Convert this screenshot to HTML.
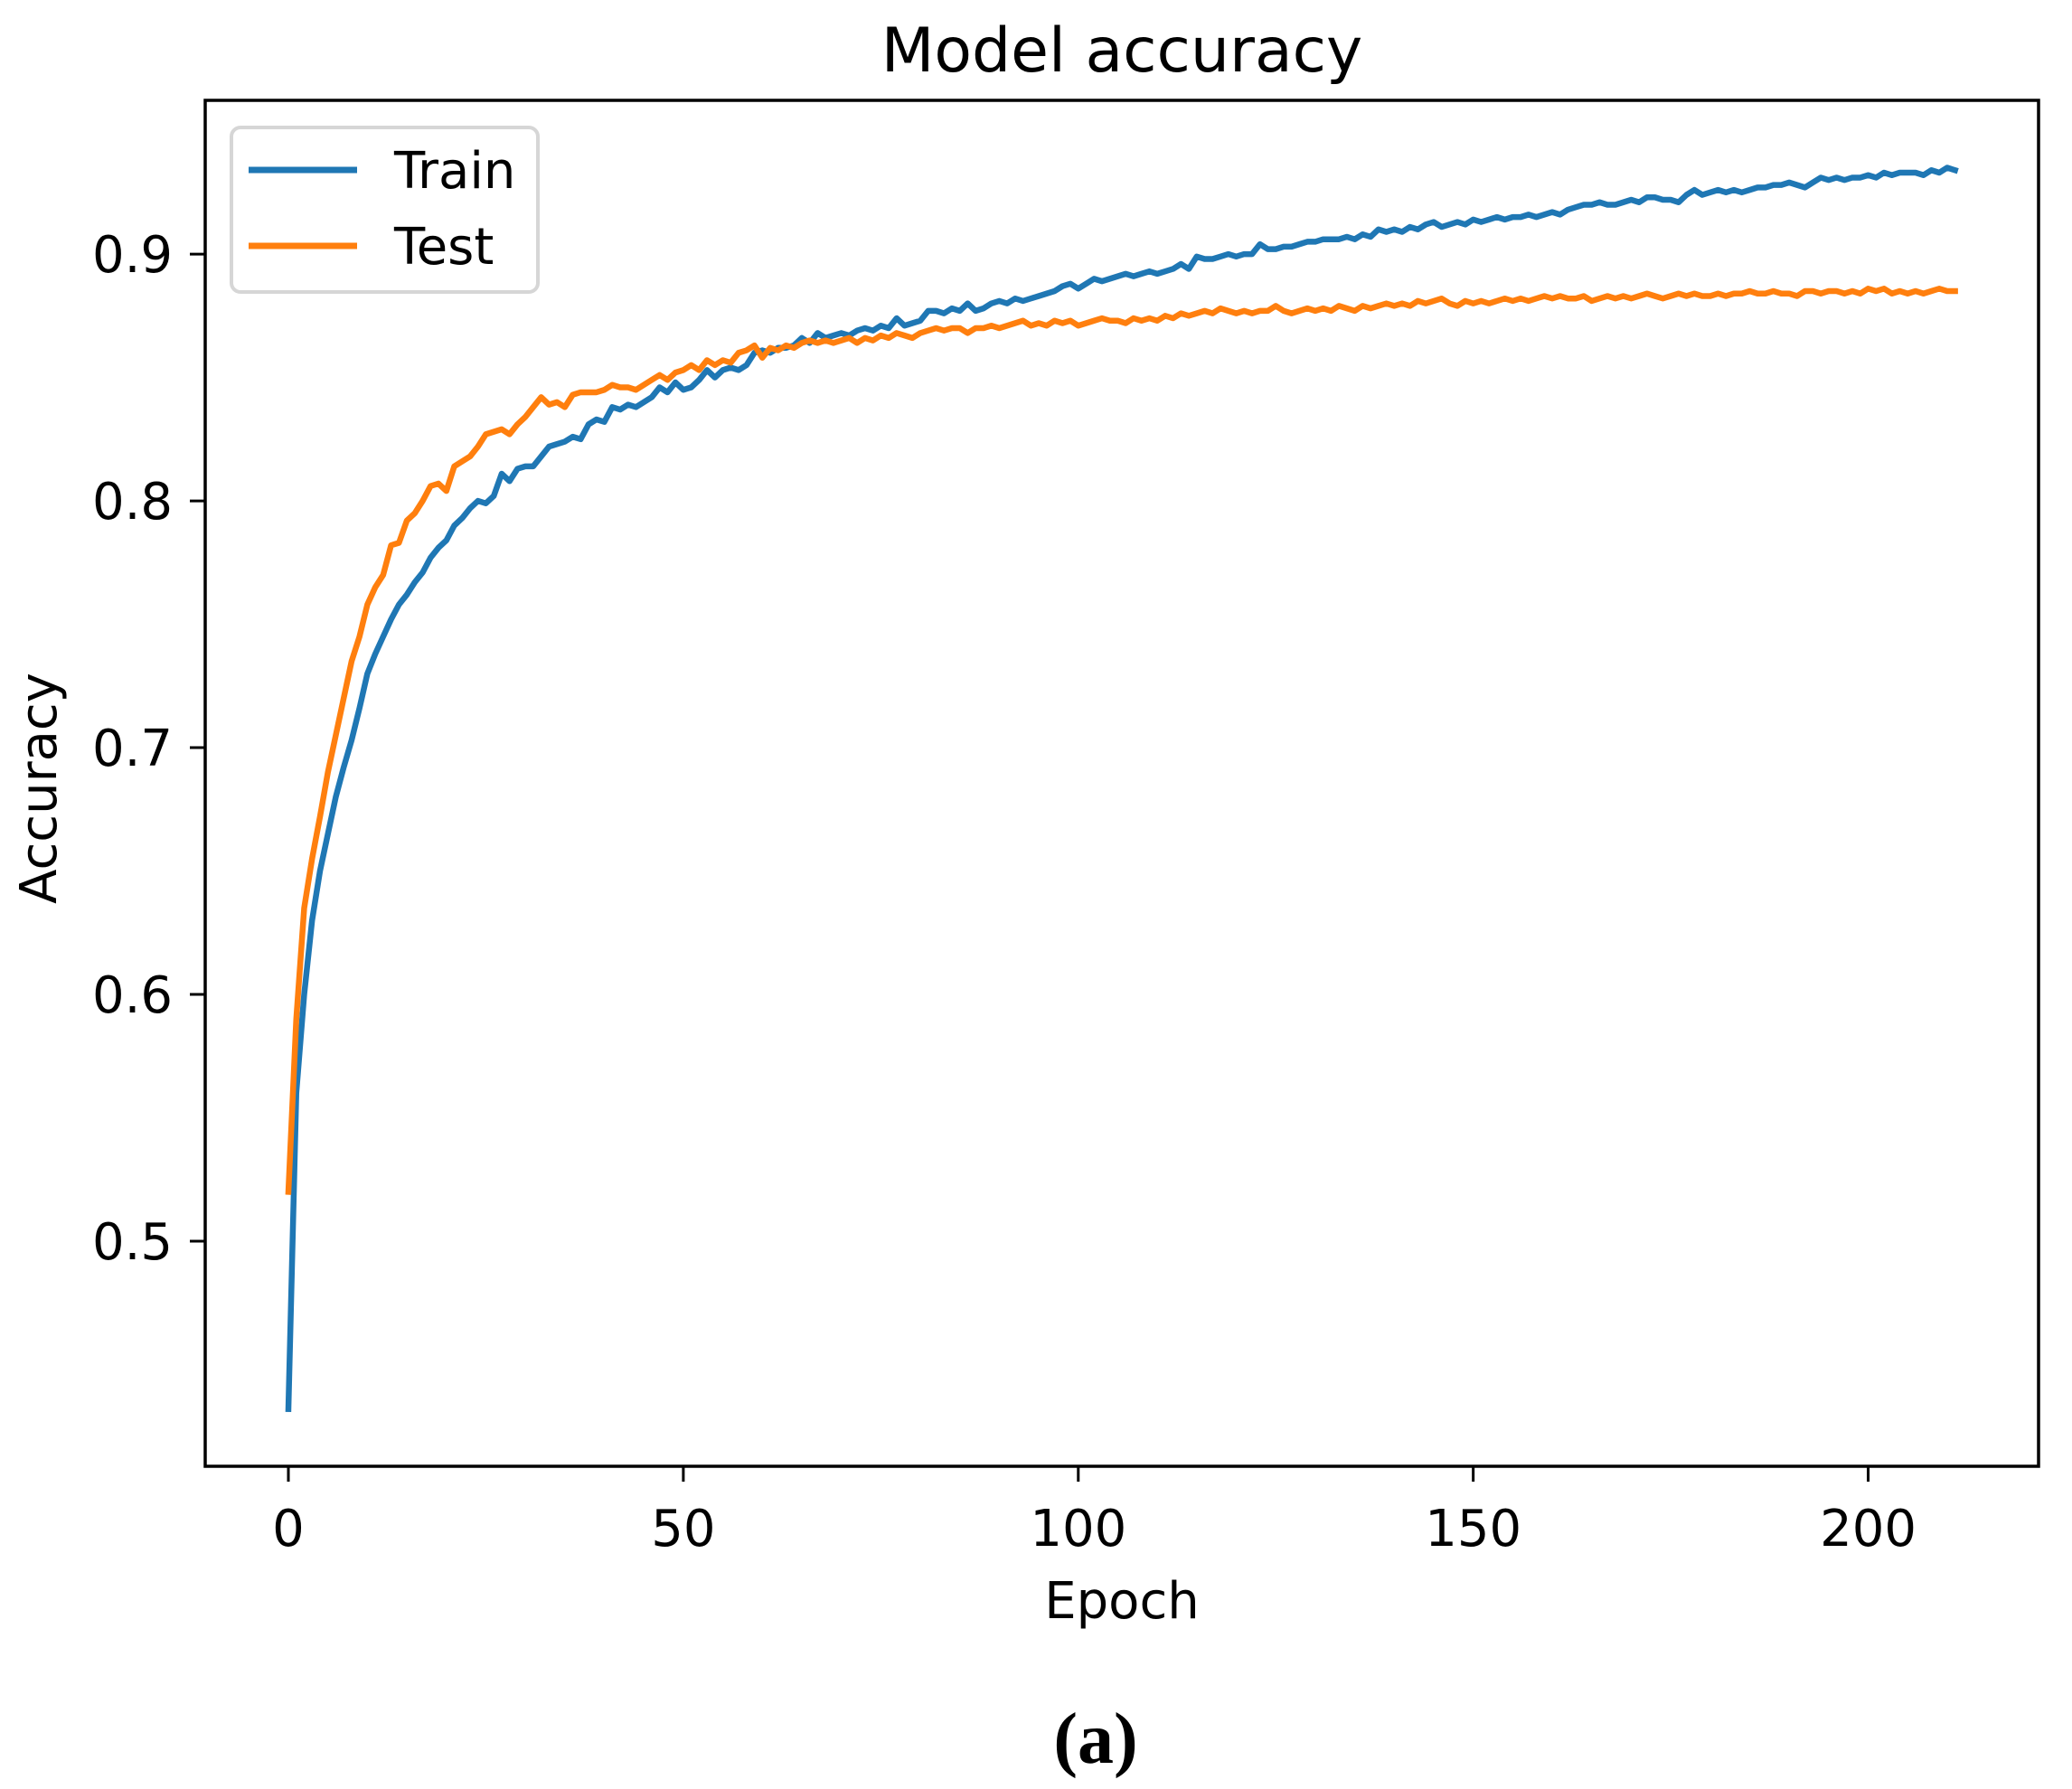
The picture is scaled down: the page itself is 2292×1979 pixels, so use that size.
<!DOCTYPE html>
<html><head><meta charset="utf-8"><style>
html,body{margin:0;padding:0;background:#fff;}
svg{display:block;}
text{font-family:"DejaVu Sans","Liberation Sans",sans-serif;fill:#000;}
</style></head><body>
<svg id="chart" width="2292" height="1979" viewBox="0 0 2292 1979">
<text x="1241" y="79" font-size="68" text-anchor="middle">Model accuracy</text>
<g id="plot"></g>
<g id="xticks"></g>
<g id="yticks"></g>
<text x="1241" y="1790" font-size="56" text-anchor="middle">Epoch</text>
<text x="0" y="0" font-size="56" text-anchor="middle" transform="translate(62,872) rotate(-90)">Accuracy</text>
<rect x="227" y="111" width="2028" height="1511" fill="none" stroke="#000" stroke-width="3.5"/>
<g>
<rect x="256" y="141" width="339" height="182" rx="10" fill="#fff" fill-opacity="0.8" stroke="#d6d6d6" stroke-width="4"/>
<g>
<line x1="275" y1="188" x2="395" y2="188" stroke="#1f77b4" stroke-width="7"/>
<text x="436" y="208" font-size="56">Train</text>
</g>
<g>
<line x1="275" y1="272" x2="395" y2="272" stroke="#ff7f0e" stroke-width="7"/>
<text x="436" y="292" font-size="56">Test</text>
</g>
</g>
<text x="1212" y="1950" font-size="80" font-weight="bold" text-anchor="middle" style="font-family:'Liberation Serif',serif">(a)</text>
</svg>
<script>
const xTicks = [0, 50, 100, 150, 200];
const yTicks = [0.5, 0.6, 0.7, 0.8, 0.9];
const yTickLabels = ["0.5", "0.6", "0.7", "0.8", "0.9"];
const trainAcc = [
0.432,0.560,0.600,0.630,0.650,0.665,0.680,0.692,0.703,0.716,
0.730,0.738,0.745,0.752,0.758,0.762,0.767,0.771,0.777,0.781,
0.784,0.790,0.793,0.797,0.800,0.799,0.802,0.811,0.808,0.813,
0.814,0.814,0.818,0.822,0.823,0.824,0.826,0.825,0.831,0.833,
0.832,0.838,0.837,0.839,0.838,0.840,0.842,0.846,0.844,0.848,
0.845,0.846,0.849,0.853,0.850,0.853,0.854,0.853,0.855,0.860,
0.861,0.860,0.862,0.862,0.863,0.866,0.864,0.868,0.866,0.867,
0.868,0.867,0.869,0.870,0.869,0.871,0.870,0.874,0.871,0.872,
0.873,0.877,0.877,0.876,0.878,0.877,0.880,0.877,0.878,0.880,
0.881,0.880,0.882,0.881,0.882,0.883,0.884,0.885,0.887,0.888,
0.886,0.888,0.890,0.889,0.890,0.891,0.892,0.891,0.892,0.893,
0.892,0.893,0.894,0.896,0.894,0.899,0.898,0.898,0.899,0.900,
0.899,0.900,0.900,0.904,0.902,0.902,0.903,0.903,0.904,0.905,
0.905,0.906,0.906,0.906,0.907,0.906,0.908,0.907,0.910,0.909,
0.910,0.909,0.911,0.910,0.912,0.913,0.911,0.912,0.913,0.912,
0.914,0.913,0.914,0.915,0.914,0.915,0.915,0.916,0.915,0.916,
0.917,0.916,0.918,0.919,0.920,0.920,0.921,0.920,0.920,0.921,
0.922,0.921,0.923,0.923,0.922,0.922,0.921,0.924,0.926,0.924,
0.925,0.926,0.925,0.926,0.925,0.926,0.927,0.927,0.928,0.928,
0.929,0.928,0.927,0.929,0.931,0.930,0.931,0.930,0.931,0.931,
0.932,0.931,0.933,0.932,0.933,0.933,0.933,0.932,0.934,0.933,0.935,0.934];
const testAcc = [
0.520,0.590,0.635,0.655,0.672,0.690,0.705,0.720,0.735,0.745,
0.758,0.765,0.770,0.782,0.783,0.792,0.795,0.800,0.806,0.807,
0.804,0.814,0.816,0.818,0.822,0.827,0.828,0.829,0.827,0.831,
0.834,0.838,0.842,0.839,0.840,0.838,0.843,0.844,0.844,0.844,
0.845,0.847,0.846,0.846,0.845,0.847,0.849,0.851,0.849,0.852,
0.853,0.855,0.853,0.857,0.855,0.857,0.856,0.860,0.861,0.863,
0.858,0.862,0.861,0.863,0.862,0.864,0.865,0.864,0.865,0.864,
0.865,0.866,0.864,0.866,0.865,0.867,0.866,0.868,0.867,0.866,
0.868,0.869,0.870,0.869,0.870,0.870,0.868,0.870,0.870,0.871,
0.870,0.871,0.872,0.873,0.871,0.872,0.871,0.873,0.872,0.873,
0.871,0.872,0.873,0.874,0.873,0.873,0.872,0.874,0.873,0.874,
0.873,0.875,0.874,0.876,0.875,0.876,0.877,0.876,0.878,0.877,
0.876,0.877,0.876,0.877,0.877,0.879,0.877,0.876,0.877,0.878,
0.877,0.878,0.877,0.879,0.878,0.877,0.879,0.878,0.879,0.880,
0.879,0.880,0.879,0.881,0.880,0.881,0.882,0.880,0.879,0.881,
0.880,0.881,0.880,0.881,0.882,0.881,0.882,0.881,0.882,0.883,
0.882,0.883,0.882,0.882,0.883,0.881,0.882,0.883,0.882,0.883,
0.882,0.883,0.884,0.883,0.882,0.883,0.884,0.883,0.884,0.883,
0.883,0.884,0.883,0.884,0.884,0.885,0.884,0.884,0.885,0.884,
0.884,0.883,0.885,0.885,0.884,0.885,0.885,0.884,0.885,0.884,
0.886,0.885,0.886,0.884,0.885,0.884,0.885,0.884,0.885,0.886,0.885,0.885];

const NS = "http://www.w3.org/2000/svg";
const L = 227, R = 2255, T = 111, B = 1622;
const xMin = -10.53, xMax = 221.57, yMin = 0.4088, yMax = 0.9623;
function xScale(v){ return L + (v - xMin) / (xMax - xMin) * (R - L); }
function yScale(v){ return B - (v - yMin) / (yMax - yMin) * (B - T); }

const plot = document.getElementById('plot');
function drawSeries(arr, color, name){
  const p = document.createElementNS(NS, 'polyline');
  p.setAttribute('points', arr.map((v,i) => xScale(i).toFixed(2) + ',' + yScale(v).toFixed(2)).join(' '));
  p.setAttribute('fill', 'none');
  p.setAttribute('stroke', color);
  p.setAttribute('stroke-width', '6.5');
  p.setAttribute('stroke-linejoin', 'round');
  p.setAttribute('stroke-linecap', 'square');
  
  
  plot.appendChild(p);
}
drawSeries(trainAcc, '#1f77b4', 'train-line');
drawSeries(testAcc, '#ff7f0e', 'test-line');

const xg = document.getElementById('xticks');
xTicks.forEach(t => {
  const x = xScale(t);
  const ln = document.createElementNS(NS, 'line');
  ln.setAttribute('x1', x); ln.setAttribute('x2', x);
  ln.setAttribute('y1', B); ln.setAttribute('y2', B + 17);
  ln.setAttribute('stroke', '#000'); ln.setAttribute('stroke-width', '3');
  
  
  xg.appendChild(ln);
  const tx = document.createElementNS(NS, 'text');
  tx.setAttribute('x', x); tx.setAttribute('y', B + 88);
  tx.setAttribute('font-size', '56'); tx.setAttribute('text-anchor', 'middle');
  tx.textContent = String(t);
  
  
  xg.appendChild(tx);
});
const yg = document.getElementById('yticks');
yTicks.forEach((t, i) => {
  const y = yScale(t);
  const ln = document.createElementNS(NS, 'line');
  ln.setAttribute('x1', L - 17); ln.setAttribute('x2', L);
  ln.setAttribute('y1', y); ln.setAttribute('y2', y);
  ln.setAttribute('stroke', '#000'); ln.setAttribute('stroke-width', '3');
  
  
  yg.appendChild(ln);
  const tx = document.createElementNS(NS, 'text');
  tx.setAttribute('x', L - 36); tx.setAttribute('y', y + 20);
  tx.setAttribute('font-size', '56'); tx.setAttribute('text-anchor', 'end');
  tx.textContent = yTickLabels[i];
  
  
  yg.appendChild(tx);
});
</script>
</body></html>
